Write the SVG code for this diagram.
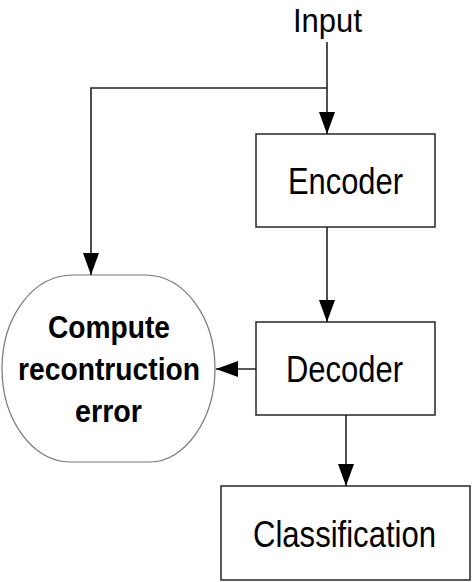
<svg xmlns="http://www.w3.org/2000/svg" width="473" height="582" viewBox="0 0 473 582">
<style>
.box{fill:#fff;stroke:#333;stroke-width:1.6}
.lbl{font-family:"Liberation Sans",Arial,sans-serif;font-size:36px;fill:#000}
.blbl{font-family:"Liberation Sans",Arial,sans-serif;font-size:31px;font-weight:bold;fill:#000}
.con{fill:none;stroke:#222;stroke-width:1.6}
</style>
<defs>
<marker id="ah" markerUnits="userSpaceOnUse" markerWidth="24" markerHeight="18" viewBox="0 0 24 18" refX="22" refY="9" orient="auto">
<path d="M0,1 L22,9 L0,17 Z" fill="#000"/>
</marker>
</defs>
<rect width="473" height="582" fill="#fff"/>
<g id="input">
<text class="lbl" x="293" y="32" style="font-size:34px" textLength="69" lengthAdjust="spacingAndGlyphs">Input</text>
</g>
<g id="encoder">
<rect class="box" x="256" y="134" width="179" height="93"/>
<text class="lbl" x="288" y="194" textLength="115" lengthAdjust="spacingAndGlyphs">Encoder</text>
</g>
<g id="decoder">
<rect class="box" x="256" y="322" width="179" height="93"/>
<text class="lbl" x="286" y="382" textLength="117" lengthAdjust="spacingAndGlyphs">Decoder</text>
</g>
<g id="classification">
<rect class="box" x="221" y="486" width="249" height="94"/>
<text class="lbl" x="253" y="547" textLength="183" lengthAdjust="spacingAndGlyphs">Classification</text>
</g>
<g id="error">
<path d="M73,275 H145 C185,275 215,318 215,368.5 C215,419 185,462 150,462 H70 C32,462 2,419 2,368.5 C2,318 32,275 73,275 Z" fill="#fff" stroke="#777" stroke-width="1.2"/>
<text class="blbl" x="48" y="338" textLength="122" lengthAdjust="spacingAndGlyphs">Compute</text>
<text class="blbl" x="18" y="380" textLength="182" lengthAdjust="spacingAndGlyphs">recontruction</text>
<text class="blbl" x="75" y="422" textLength="67" lengthAdjust="spacingAndGlyphs">error</text>
</g>
<g id="connectors">
<path class="con" d="M327,42 V134" marker-end="url(#ah)"/>
<path class="con" d="M327,88 H91 V275" marker-end="url(#ah)"/>
<path class="con" d="M327,227 V322" marker-end="url(#ah)"/>
<path class="con" d="M256,369 H216" marker-end="url(#ah)"/>
<path class="con" d="M346,415 V486" marker-end="url(#ah)"/>
</g>
</svg>
